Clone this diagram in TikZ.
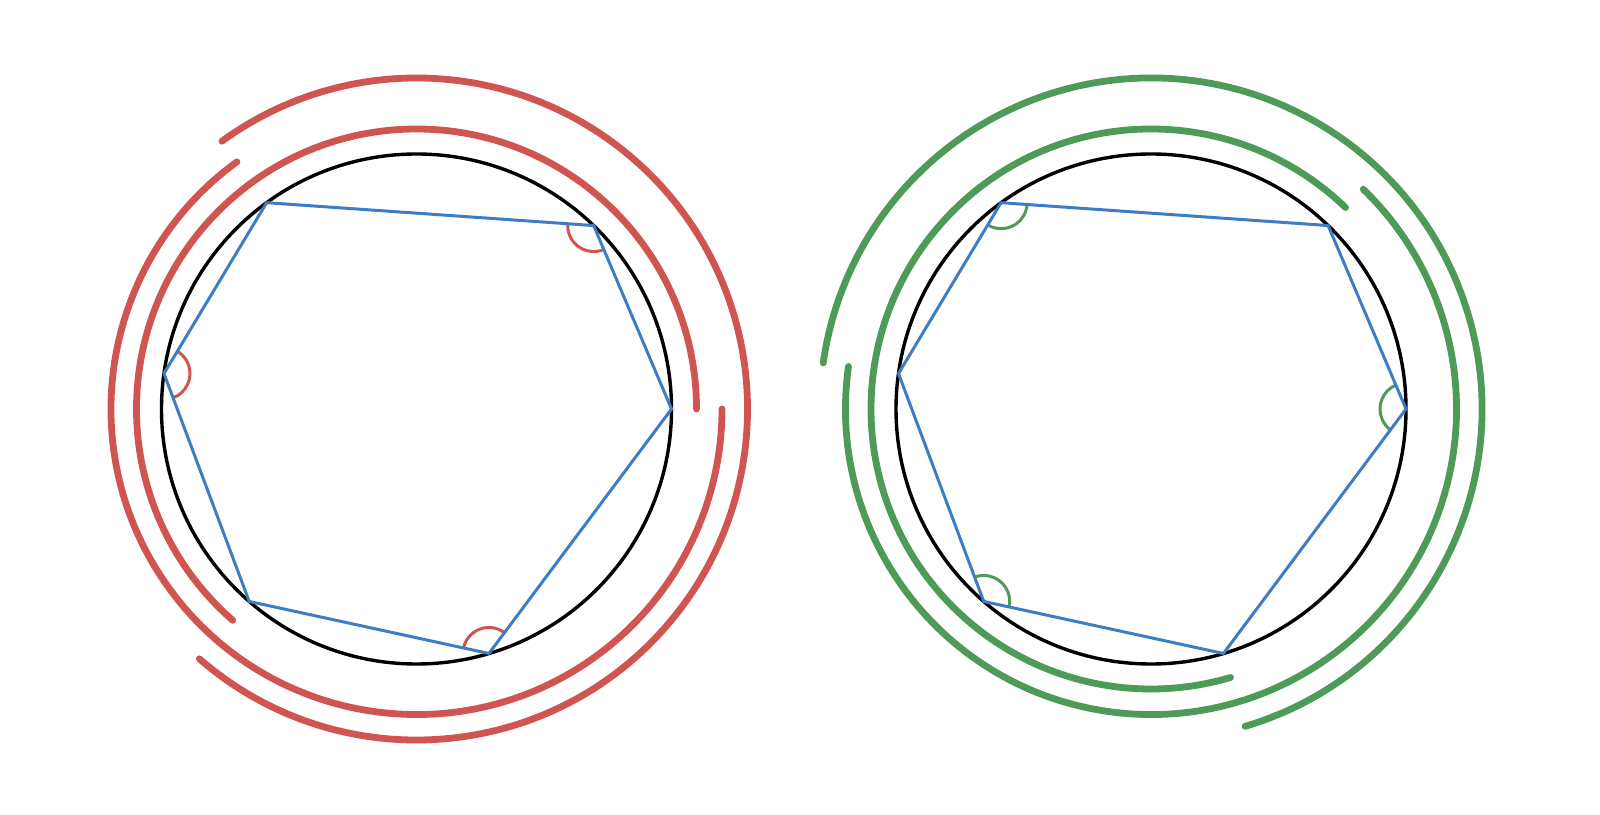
\documentclass[tikz,border=0pt]{standalone}
\usetikzlibrary{angles}
\definecolor{vermelho}{HTML}{D05450}
\definecolor{verde}{HTML}{4E9A57}
\definecolor{azul}{HTML}{3C7DC3}

\begin{document}
\begin{tikzpicture}[scale=1, %Início do desenho e definição da escala
  circulo/.style={black, line width=0.034cm},
  poligono/.style={azul, line width=0.03cm, line join=round},
  arco/.style={line width=0.068cm, line cap=round},
  marca/.style={draw, line width=0.03cm, angle radius=0.26cm}]
	\useasboundingbox (0,0) rectangle (16,8.14); %Área do desenho
		%Primeira figura
	\coordinate (O1) at (4.165,4.05); %Centro
	\foreach \a [count=\i from 0] in {0,46,126,172,229,286.5}
		\coordinate (A\i) at ([shift={(\a:2.55)}]O1); %Vértices
	\draw[arco, vermelho] ([shift={(0:2.8)}]O1) arc[start angle=0, end angle=229, radius=2.8]; %Arco do vértice A5
	\draw[arco, vermelho] ([shift={(126:3.055)}]O1) arc[start angle=126, end angle=360, radius=3.055]; %Arco do vértice A1
	\draw[arco, vermelho] ([shift={(229:3.31)}]O1) arc[start angle=229, end angle=486, radius=3.31]; %Arco do vértice A3
	\draw[circulo] (O1) circle (2.55); %Circunferência
	\pic[marca, vermelho] {angle = A2--A1--A0}; %Ângulo em A1
	\pic[marca, vermelho] {angle = A4--A3--A2}; %Ângulo em A3
	\pic[marca, vermelho] {angle = A0--A5--A4}; %Ângulo em A5
	\draw[poligono] (A0) -- (A1) -- (A2) -- (A3) -- (A4) -- (A5) -- cycle; %Hexágono
		%Segunda figura
	\coordinate (O2) at (11.51,4.05); %Centro
	\foreach \a [count=\i from 0] in {0,46,126,172,229,286.5}
		\coordinate (B\i) at ([shift={(\a:2.55)}]O2); %Vértices
	\draw[arco, verde] ([shift={(46:2.8)}]O2) arc[start angle=46, end angle=286.5, radius=2.8]; %Arco do vértice B0
	\draw[arco, verde] ([shift={(172:3.055)}]O2) arc[start angle=172, end angle=406, radius=3.055]; %Arco do vértice B2
	\draw[arco, verde] ([shift={(286.5:3.31)}]O2) arc[start angle=286.5, end angle=532, radius=3.31]; %Arco do vértice B4
	\draw[circulo] (O2) circle (2.55); %Circunferência
	\pic[marca, verde] {angle = B1--B0--B5}; %Ângulo em B0
	\pic[marca, verde] {angle = B3--B2--B1}; %Ângulo em B2
	\pic[marca, verde] {angle = B5--B4--B3}; %Ângulo em B4
	\draw[poligono] (B0) -- (B1) -- (B2) -- (B3) -- (B4) -- (B5) -- cycle; %Hexágono
\end{tikzpicture}
\end{document}
